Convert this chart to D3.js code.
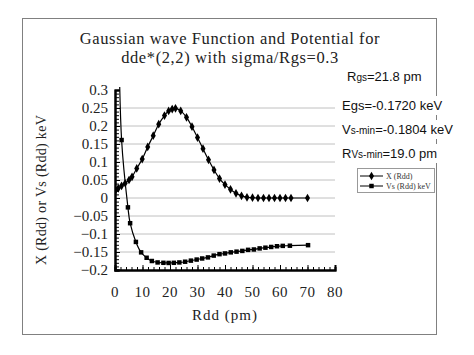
<!DOCTYPE html>
<html><head><meta charset="utf-8">
<script src="https://cdn.jsdelivr.net/npm/d3@7"></script>
<style>body{margin:0;background:#fff}svg{display:block}</style>
</head><body>
<svg id="c" width="474" height="355"></svg>
<script>
// ---- data ----
const titleLines = ["Gaussian wave Function and Potential for", "dde*(2,2) with sigma/Rgs=0.3"];
const xTicks = [0, 10, 20, 30, 40, 50, 60, 70, 80];
const yTicks = [-0.2, -0.15, -0.1, -0.05, 0, 0.05, 0.1, 0.15, 0.2, 0.25, 0.3];
const seriesNames = ["X (Rdd)", "Vs (Rdd) keV"];
const xR = [0.2, 1.2, 2.4, 3.7, 5.1, 6.2, 7.9, 9.9, 11.9, 13.9, 15.9, 18, 19.5, 20.8, 22, 23.9, 26, 28, 30, 32, 34, 36, 38, 40, 42, 44, 46, 48, 50, 52, 54, 56, 58, 60, 62, 64, 70];
const xVal = [0.021, 0.027, 0.034, 0.041, 0.050, 0.059, 0.082, 0.108, 0.142, 0.173, 0.205, 0.229, 0.242, 0.247, 0.249, 0.242, 0.224, 0.198, 0.168, 0.137, 0.106, 0.078, 0.054, 0.037, 0.024, 0.013, 0.006, 0.002, 0.001, 0.0, 0.0, 0.0, 0.0, 0.0, 0.0, 0.0, 0.0];
const vR = [1.2, 2.4, 4.7, 5.5, 7.6, 9.5, 11.5, 13.4, 15.5, 17.6, 19.5, 21.4, 23.4, 25.5, 27.6, 29.7, 31.7, 33.8, 35.9, 38, 40, 42.1, 44.2, 46.3, 48.4, 50.5, 52.6, 54.7, 56.8, 58.9, 61, 63.6, 70.2];
const vVal = [0.58, 0.161, -0.026, -0.070, -0.122, -0.151, -0.166, -0.175, -0.179, -0.180, -0.1804, -0.180, -0.179, -0.177, -0.174, -0.171, -0.168, -0.165, -0.160, -0.156, -0.154, -0.151, -0.149, -0.147, -0.144, -0.143, -0.140, -0.138, -0.136, -0.134, -0.133, -0.1325, -0.131];

const svg = d3.select("#c");
const plot = {l: 115, r: 335, t: 90, b: 270};

// outer border
svg.append("rect").attr("x", 22.5).attr("y", 18.5).attr("width", 414).attr("height", 316)
  .attr("fill", "#fff").attr("stroke", "#808080").attr("stroke-width", 1);

const serif = "'Liberation Serif','DejaVu Serif',serif";
const sans = "'Liberation Sans',Arial,sans-serif";

// title
svg.append("g").selectAll("text").data(titleLines).join("text")
  .attr("x", 230).attr("y", (d, i) => 44 + i * 18.5)
  .attr("text-anchor", "middle").attr("font-family", serif).attr("font-size", 16.5)
  .attr("letter-spacing", 0.6).attr("fill", "#222").text(d => d);

const x = d3.scaleLinear().domain([0, 80]).range([plot.l, plot.r]);
const y = d3.scaleLinear().domain([-0.2, 0.3]).range([plot.b, plot.t]);

// gridlines
svg.append("g").selectAll("line").data(yTicks.filter(v => v > -0.2 && v < 0.3)).join("line")
  .attr("x1", plot.l).attr("x2", plot.r).attr("y1", d => y(d)).attr("y2", d => y(d))
  .attr("stroke", "#c0c0c0").attr("stroke-width", 1);

// y axis
const fmtY = d => (d < 0 ? "\u2212" : "") + String(+Math.abs(d).toFixed(2));
const yAxis = d3.axisRight(y).tickValues(yTicks).tickSize(5).tickFormat("");
const yMinor = d3.axisRight(y).tickValues(d3.range(-20, 31).map(v => v / 100)).tickSize(4).tickFormat("");
const gy = svg.append("g").attr("transform", `translate(${plot.l},0)`);
gy.call(yMinor);
gy.append("g").call(yAxis);
gy.selectAll("path").attr("stroke", "#000").attr("stroke-width", 2);
gy.selectAll("line").attr("stroke", "#000").attr("stroke-width", 1);
svg.append("g").selectAll("text").data(yTicks).join("text")
  .attr("x", plot.l - 7).attr("y", d => y(d) + 5)
  .attr("text-anchor", "end").attr("font-family", serif).attr("font-size", 15)
  .attr("fill", "#222").text(fmtY);

// x axis
const xAxis = d3.axisTop(x).tickValues(xTicks).tickSize(5).tickFormat("");
const xMinor = d3.axisTop(x).tickValues(d3.range(0, 81, 2)).tickSize(3).tickFormat("");
const gx = svg.append("g").attr("transform", `translate(0,${plot.b})`);
gx.call(xMinor);
gx.append("g").call(xAxis);
gx.selectAll("path").attr("stroke", "#000").attr("stroke-width", 2);
gx.selectAll("line").attr("stroke", "#000");
svg.append("g").selectAll("text").data(xTicks).join("text")
  .attr("x", d => x(d)).attr("y", 297)
  .attr("text-anchor", "middle").attr("font-family", serif).attr("font-size", 15)
  .attr("letter-spacing", 0.5).attr("fill", "#222").text(d => d);

// axis titles
svg.append("text").attr("x", 225).attr("y", 320).attr("text-anchor", "middle")
  .attr("font-family", serif).attr("font-size", 15).attr("letter-spacing", 1)
  .attr("fill", "#222").text("Rdd (pm)");
svg.append("text").attr("transform", "translate(46,190) rotate(-90)").attr("text-anchor", "middle")
  .attr("font-family", serif).attr("font-size", 14).attr("letter-spacing", 0.3)
  .attr("fill", "#222").text("X (Rdd) or Vs (Rdd) keV");

// clip
svg.append("clipPath").attr("id", "pc").append("rect")
  .attr("x", plot.l).attr("y", plot.t - 3).attr("width", plot.r - plot.l + 5).attr("height", plot.b - plot.t + 3);

const line = d3.line().x(d => x(d[0])).y(d => y(d[1])).curve(d3.curveCatmullRom.alpha(0.5));
const xData = xR.map((r, i) => [r, xVal[i]]);
const vData = vR.map((r, i) => [r, vVal[i]]);
const gl = svg.append("g").attr("clip-path", "url(#pc)");
gl.append("path").datum(xData).attr("d", line).attr("fill", "none").attr("stroke", "#000").attr("stroke-width", 1.2);
gl.append("path").datum(vData).attr("d", line).attr("fill", "none").attr("stroke", "#000").attr("stroke-width", 1.2);

const diamond = d3.symbol().type(d3.symbolDiamond).size(22);
const square = d3.symbol().type(d3.symbolSquare).size(20);
gl.append("g").selectAll("path").data(xData).join("path")
  .attr("transform", d => `translate(${x(d[0])},${y(d[1])})`).attr("d", diamond).attr("fill", "#000");
gl.append("g").selectAll("path").data(vData).join("path")
  .attr("transform", d => `translate(${x(d[0])},${y(d[1])})`).attr("d", square).attr("fill", "#000");

// annotations
function annot(xp, yp, parts, bg) {
  const t = svg.append("text").attr("x", xp).attr("y", yp).attr("font-family", sans).attr("fill", "#111");
  parts.forEach(p => t.append("tspan").attr("font-size", p[1]).text(p[0]));
  if (bg) {
    const bb = t.node().getBBox();
    svg.insert("rect", () => t.node()).attr("x", bb.x - 1).attr("y", bb.y - 2).attr("width", bb.width + 2).attr("height", bb.height + 4).attr("fill", "#fff");
  }
}
annot(347, 81, [["R", 13], ["gs", 10], ["=21.8 pm", 13]], true);
annot(342, 110, [["Egs=-0.1720 keV", 13]], true);
annot(342, 134, [["V", 13], ["s-min", 10], ["=-0.1804 keV", 13]], true);
annot(342, 158, [["R", 13], ["Vs-min", 10], ["=19.0 pm", 13]], true);

// legend
const lg = svg.append("g");
lg.append("rect").attr("x", 357.5).attr("y", 168.5).attr("width", 77).attr("height", 24)
  .attr("fill", "#fff").attr("stroke", "#999");
const syms = [diamond, square];
seriesNames.forEach((n, i) => {
  const yy = 176 + i * 10;
  lg.append("line").attr("x1", 360).attr("x2", 383).attr("y1", yy).attr("y2", yy).attr("stroke", "#000");
  lg.append("path").attr("d", syms[i]).attr("transform", `translate(371.5,${yy})`).attr("fill", "#000");
  lg.append("text").attr("x", 386).attr("y", yy + 3).attr("font-family", serif).attr("font-size", 8)
    .attr("fill", "#333").text(n);
});
</script>
</body></html>
